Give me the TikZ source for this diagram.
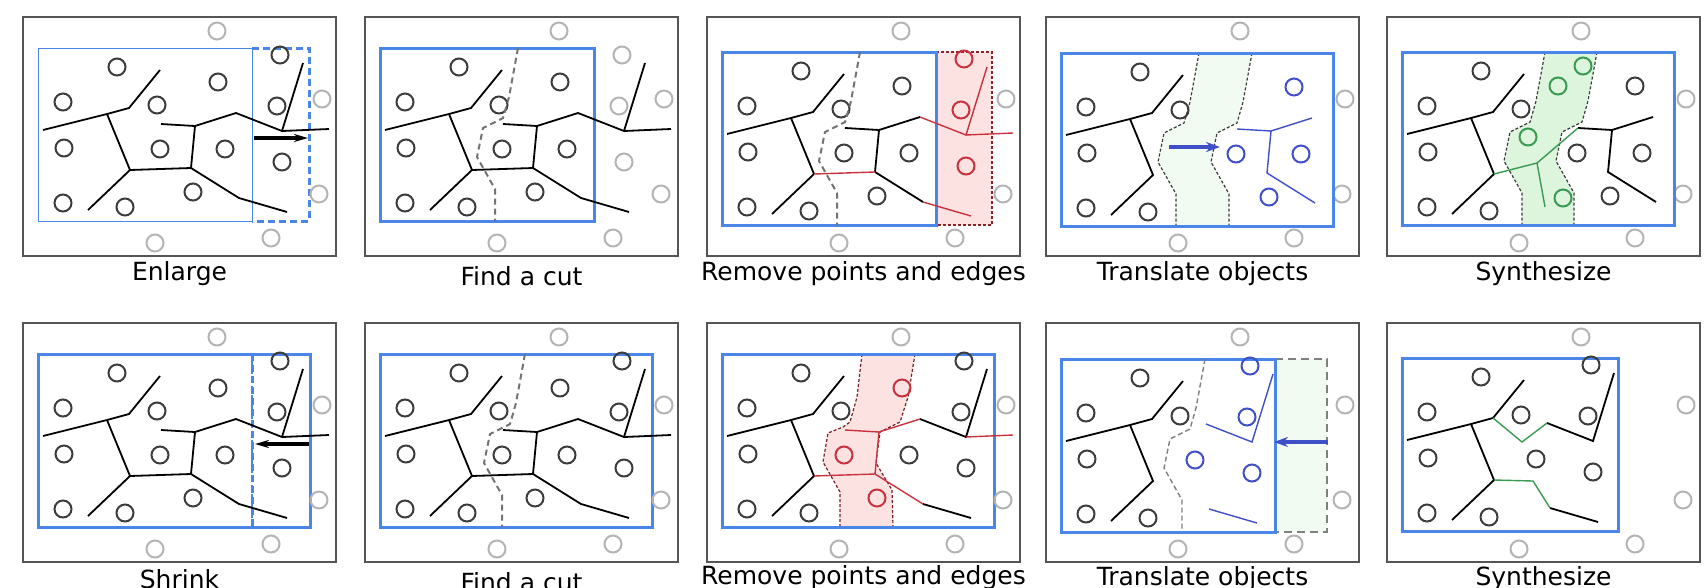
\documentclass[tikz,border=0pt]{standalone}
\usepackage{fontspec}
\setmainfont{DejaVu Sans}
\usetikzlibrary{arrows.meta}

\definecolor{frameC}{HTML}{555555}
\definecolor{rectC}{HTML}{4A86E8}
\definecolor{ptC}{HTML}{3C3C3C}
\definecolor{oldC}{HTML}{B4B4B4}
\definecolor{remC}{HTML}{C8323C}
\definecolor{remF}{HTML}{FDE2E2}
\definecolor{synC}{HTML}{3A9A50}
\definecolor{synF}{HTML}{DDF5DD}
\definecolor{movC}{HTML}{3F4FC8}
\definecolor{movF}{HTML}{F2FBF2}

\tikzset{
  frame/.style={draw=frameC, line width=2},
  area/.style={draw=rectC, line width=3},
  edge/.style={line width=1.8},
  pt/.style={circle, draw=ptC, line width=2, minimum size=17, inner sep=0},
  old/.style={pt, draw=oldC},
  cut/.style={draw=gray!110, line width=2, dash pattern=on 6pt off 4pt},
  band/.style={line width=1.2, dash pattern=on 3pt off 2pt},
  lab/.style={font=\fontsize{25}{29}\selectfont}
}

% graph vertices and site points, shifted by #1, names prefixed by #2
\newcommand\mkverts[2]{%
  \foreach \n/\x/\y in {L/20/113,A/84/97,B/106/91,C/137/53,D/107/153,E/168/151,
      F/172/109,S/138/107,G/213/96,H/259/114,T/280/46,R/306/112,I/216/181,J/264/195,K/65/193}
    {\coordinate (#2\n) at ({\x+#1},\y);}
  \foreach \n/\x/\y in {1/94/50,2/40/85,3/41/131,4/40/186,5/102/190,6/134/88,7/137/132,
      8/170/175,9/195/65,10/202/132,11/257/38,12/254/89,13/259/145}
    {\coordinate (#2q\n) at ({\x+#1},\y);}}
% the cut line, shifted by #1
\newcommand\mkcut[2]{%
  \foreach \n/\x/\y in {1/153/31,2/144/80,3/138/101,4/118/111,5/112/140,6/130/172,7/130/204}
    {\coordinate (#2\n) at ({\x+#1},\y);}}
\newcommand\oldpts{%
  \foreach \n/\x/\y in {1/194/14,2/299/82,3/296/177,4/132/226,5/248/221}
    {\node[old] (g\n) at (\x,\y) {};}}

\begin{document}
\begin{tikzpicture}[x=1pt,y=-1pt]
  \useasboundingbox (0,0) rectangle (1704,587);

  % ---- top row ----
  \begin{scope}[shift={(23,17)}]
    \draw[frame] (0,0) rectangle (313,239);
    \node[lab] (l1) at (156.5,257) {Enlarge};
    \mkverts{0}{}
    \draw[rectC, line width=1] (15,31) rectangle (229,204);
    \draw[rectC, line width=3, dash pattern=on 7pt off 4pt] (229,31) -- (286,31) -- (286,204) -- (229,204);
    \oldpts
    \foreach \i in {1,...,13} \node[pt] (p\i) at (q\i) {};
    \draw[edge] (L)--(A)--(B)--(C) (A)--(D)--(E)--(F)--(S) (F)--(G)--(H)--(T) (H)--(R)
      (E)--(I)--(J) (D)--(K);
    \coordinate (a1) at (231,121);
    \coordinate (a2) at (285,121);
    \draw[line width=3.5, -{Stealth[length=14pt,width=8pt]}] (a1) -- (a2);
  \end{scope}

  \begin{scope}[shift={(365,17)}]
    \draw[frame] (0,0) rectangle (313,239);
    \node[lab] (l2) at (156.5,259) {Find a cut};
    \mkverts{0}{}
    \mkcut{0}{c}
    \draw[area] (15,31) rectangle (229,204);
    \oldpts
    \foreach \i in {1,...,10} \node[pt] (p\i) at (q\i) {};
    \foreach \i in {11,12,13} \node[old] (p\i) at (q\i) {};
    \draw[edge] (L)--(A)--(B)--(C) (A)--(D)--(E)--(F)--(S) (F)--(G)--(H)--(T) (H)--(R)
      (E)--(I)--(J) (D)--(K);
    \draw[cut] (c1)--(c2)--(c3)--(c4)--(c5)--(c6)--(c7);
  \end{scope}

  \begin{scope}[shift={(707,17)}]
    \draw[frame] (0,0) rectangle (313,239);
    \node[lab] (l3) at (156.5,257) {Remove points and edges};
    \oldpts
    \begin{scope}[shift={(0,4)}]
    \mkverts{0}{}
    \mkcut{0}{c}
    \fill[remF] (229,31) rectangle (285,204);
    \draw[band, remC!70!black] (229,31) -- (285,31) -- (285,204) -- (229,204);
    \draw[area] (15,31) rectangle (229,204);
    \foreach \i in {1,...,10} \node[pt] (p\i) at (q\i) {};
    \foreach \i in {11,12,13} \node[pt, draw=remC] (p\i) at (q\i) {};
    \draw[edge] (L)--(A)--(B)--(C) (A)--(D) (E)--(F)--(S) (F)--(G) (E)--(I) (D)--(K);
    \draw[edge, remC, line width=1.4] (D)--(E) (G)--(H)--(T) (H)--(R) (I)--(J);
    \draw[cut] (c1)--(c2)--(c3)--(c4)--(c5)--(c6)--(c7);
    \end{scope}
  \end{scope}

  \begin{scope}[shift={(1046,17)}]
    \draw[frame] (0,0) rectangle (313,239);
    \node[lab] (l4) at (156.5,257) {Translate objects};
    \oldpts
    \begin{scope}[shift={(0,5)}]
    \mkverts{0}{}
    \mkverts{53}{t}
    \mkcut{0}{c}
    \mkcut{53}{d}
    \fill[movF] (c1)--(c2)--(c3)--(c4)--(c5)--(c6)--(c7)--(d7)--(d6)--(d5)--(d4)--(d3)--(d2)--(d1)--cycle;
    \draw[band, ptC] (c1)--(c2)--(c3)--(c4)--(c5)--(c6)--(c7);
    \draw[band, ptC] (d1)--(d2)--(d3)--(d4)--(d5)--(d6)--(d7);
    \draw[area] (15,31) rectangle (287,204);
    \foreach \i in {1,...,6} \node[pt] (p\i) at (q\i) {};
    \foreach \i in {7,...,10} \node[pt, draw=movC] (s\i) at (tq\i) {};
    \draw[edge] (L)--(A)--(B)--(C) (A)--(D)--(K);
    \draw[edge, movC, line width=1.4] (tS)--(tF)--(tG) (tF)--(tE)--(tI);
    \coordinate (a1) at (123,125);
    \coordinate (a2) at (174,125);
    \draw[movC, line width=4.5, -{Stealth[length=14pt,width=10pt]}] (a1) -- (a2);
    \end{scope}
  \end{scope}

  \begin{scope}[shift={(1387,17)}]
    \draw[frame] (0,0) rectangle (313,239);
    \node[lab] (l5) at (156.5,257) {Synthesize};
    \oldpts
    \begin{scope}[shift={(0,4)}]
    \mkverts{0}{}
    \mkverts{53}{t}
    \mkcut{5}{c}
    \mkcut{57}{d}
    \fill[synF] (c1)--(c2)--(c3)--(c4)--(c5)--(c6)--(c7)--(d7)--(d6)--(d5)--(d4)--(d3)--(d2)--(d1)--cycle;
    \draw[band, ptC] (c1)--(c2)--(c3)--(c4)--(c5)--(c6)--(c7);
    \draw[band, ptC] (d1)--(d2)--(d3)--(d4)--(d5)--(d6)--(d7);
    \draw[area] (15,31) rectangle (287,204);
    \foreach \i in {1,...,6} \node[pt] (p\i) at (q\i) {};
    \foreach \i in {7,...,10} \node[pt] (s\i) at (tq\i) {};
    \foreach \n/\x/\y in {1/196/45,2/171/65,3/141/116,4/176/177}
      \node[pt, draw=synC] (n\n) at (\x,\y) {};
    \coordinate (m1) at (150,142);
    \coordinate (m2) at (158,186);
    \draw[edge] (L)--(A)--(B)--(C) (A)--(D)--(K) (tS)--(tF)--(tG) (tF)--(tE)--(tI);
    \draw[edge, synC, line width=1.4] (D)--(m1)--(tS) (m1)--(m2);
    \end{scope}
  \end{scope}

  % ---- bottom row ----
  \begin{scope}[shift={(23,323)}]
    \draw[frame] (0,0) rectangle (313,239);
    \node[lab] (l6) at (156.5,256) {Shrink};
    \mkverts{0}{}
    \draw[area] (15,31) rectangle (287,204);
    \draw[rectC, line width=1.5, dash pattern=on 6pt off 3pt] (15,31) rectangle (229,204);
    \draw[rectC, line width=3, dash pattern=on 7pt off 4pt] (229,31) -- (229,204);
    \oldpts
    \foreach \i in {1,...,13} \node[pt] (p\i) at (q\i) {};
    \draw[edge] (L)--(A)--(B)--(C) (A)--(D)--(E)--(F)--(S) (F)--(G)--(H)--(T) (H)--(R)
      (E)--(I)--(J) (D)--(K);
    \coordinate (a1) at (286,121);
    \coordinate (a2) at (232,121);
    \draw[line width=3.5, -{Stealth[length=14pt,width=8pt]}] (a1) -- (a2);
  \end{scope}

  \begin{scope}[shift={(365,323)}]
    \draw[frame] (0,0) rectangle (313,239);
    \node[lab] (l7) at (156.5,259) {Find a cut};
    \mkverts{0}{}
    \mkcut{7}{c}
    \draw[area] (15,31) rectangle (287,204);
    \oldpts
    \foreach \i in {1,...,13} \node[pt] (p\i) at (q\i) {};
    \draw[edge] (L)--(A)--(B)--(C) (A)--(D)--(E)--(F)--(S) (F)--(G)--(H)--(T) (H)--(R)
      (E)--(I)--(J) (D)--(K);
    \draw[cut] (c1)--(c2)--(c3)--(c4)--(c5)--(c6)--(c7);
  \end{scope}

  \begin{scope}[shift={(707,323)}]
    \draw[frame] (0,0) rectangle (313,239);
    \node[lab] (l8) at (156.5,255) {Remove points and edges};
    \mkverts{0}{}
    \foreach \n/\x/\y in {1/155/31,2/150/74,3/143/99,4/136/104,5/121/110,6/116/139,7/133/169,8/133/204}
      {\coordinate (c\n) at (\x,\y);}
    \foreach \n/\x/\y in {1/208/31,2/201/74,3/193/99,4/173/109,5/169/140,6/185/167,7/186/204}
      {\coordinate (d\n) at (\x,\y);}
    \fill[remF] (c1)--(c2)--(c3)--(c4)--(c5)--(c6)--(c7)--(c8)--(d7)--(d6)--(d5)--(d4)--(d3)--(d2)--(d1)--cycle;
    \draw[band, remC!60!black] (c1)--(c2)--(c3)--(c4)--(c5)--(c6)--(c7)--(c8);
    \draw[band, remC!60!black] (d1)--(d2)--(d3)--(d4)--(d5)--(d6)--(d7);
    \draw[area] (15,31) rectangle (287,204);
    \oldpts
    \foreach \i in {1,...,6,10,11,12,13} \node[pt] (p\i) at (q\i) {};
    \foreach \i in {7,8,9} \node[pt, draw=remC] (p\i) at (q\i) {};
    \draw[edge] (L)--(A)--(B)--(C) (A)--(D)--(K) (G)--(H)--(T) (I)--(J);
    \draw[edge, remC, line width=1.4] (S)--(F)--(G) (F)--(E)--(D) (E)--(I) (H)--(R);
  \end{scope}

  \begin{scope}[shift={(1046,323)}]
    \draw[frame] (0,0) rectangle (313,239);
    \node[lab] (l9) at (156.5,256) {Translate objects};
    \oldpts
    \begin{scope}[shift={(0,5)}]
    \mkverts{0}{}
    \mkverts{-53}{t}
    \mkcut{6}{c}
    \fill[movF] (229,31) rectangle (281,204);
    \draw[gray, line width=1.8, dash pattern=on 8pt off 5pt] (229,31) -- (281,31) -- (281,204) -- (229,204);
    \draw[area] (15,31) rectangle (229,204);
    \draw[band, gray, line width=1.4, dash pattern=on 5pt off 3pt] (c1)--(c2)--(c3)--(c4)--(c5)--(c6)--(c7);
    \foreach \i in {1,...,6} \node[pt] (p\i) at (q\i) {};
    \foreach \i in {10,...,13} \node[pt, draw=movC] (s\i) at (tq\i) {};
    \draw[edge] (L)--(A)--(B)--(C) (A)--(D)--(K);
    \draw[edge, movC, line width=1.4] (tG)--(tH)--(tT) (tI)--(tJ);
    \coordinate (a1) at (282,114);
    \coordinate (a2) at (228,114);
    \draw[movC, line width=4.5, -{Stealth[length=14pt,width=10pt]}] (a1) -- (a2);
    \end{scope}
  \end{scope}

  \begin{scope}[shift={(1387,323)}]
    \draw[frame] (0,0) rectangle (313,239);
    \node[lab] (l10) at (156.5,256) {Synthesize};
    \oldpts
    \begin{scope}[shift={(0,4)}]
    \mkverts{0}{}
    \mkverts{-53}{t}
    \draw[area] (15,31) rectangle (231,204);
    \foreach \i in {1,...,6} \node[pt] (p\i) at (q\i) {};
    \foreach \i in {10,...,13} \node[pt] (s\i) at (tq\i) {};
    \coordinate (m1) at (135,115);
    \coordinate (m2) at (146,154);
    \draw[edge] (L)--(A)--(B)--(C) (A)--(D)--(K) (tG)--(tH)--(tT) (tI)--(tJ);
    \draw[edge, synC, line width=1.4] (B)--(m1)--(tG) (D)--(m2)--(tI);
    \end{scope}
  \end{scope}
\end{tikzpicture}
\end{document}
